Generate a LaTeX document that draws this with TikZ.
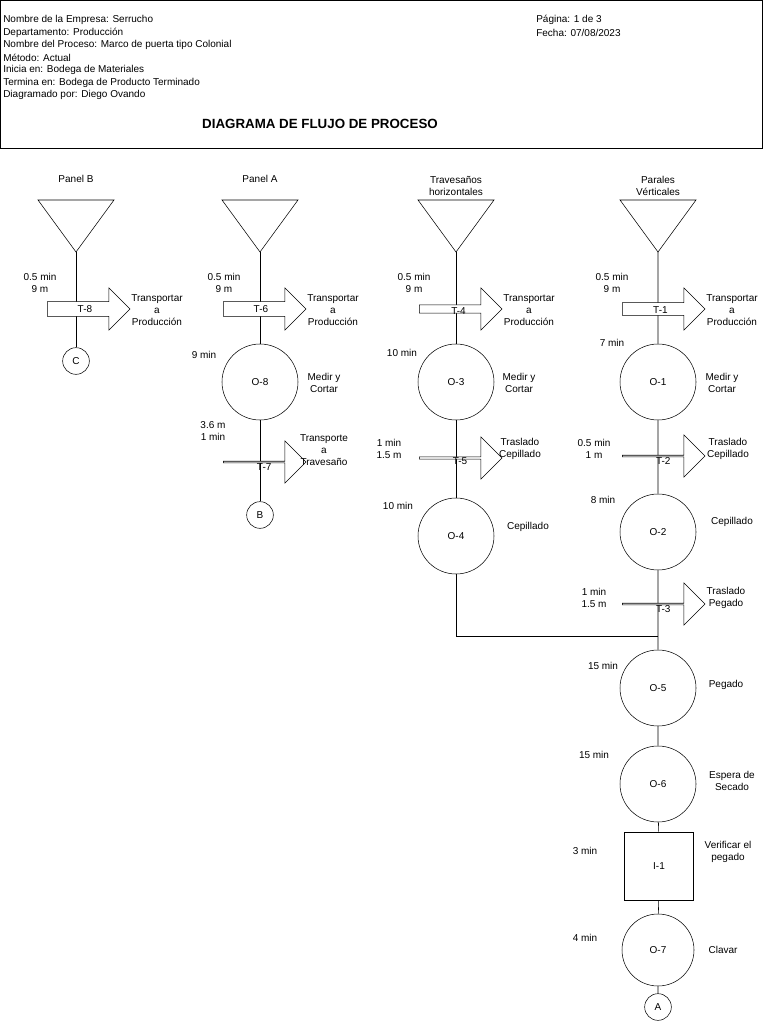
\documentclass[tikz,border=0pt]{standalone}
\usepackage{fontspec}
\setmainfont{Liberation Sans}
\usetikzlibrary{shapes.arrows,backgrounds}
\begin{document}
\begin{tikzpicture}[x=0.75pt,y=-0.75pt,
  every node/.style={font=\fontsize{7.5}{9}\selectfont},
  txt/.style={align=center,inner sep=0pt},
  ltxt/.style={anchor=west,inner sep=0pt},
  op/.style={circle,draw,fill=white,minimum size=57pt,inner sep=0pt},
  conn/.style={circle,draw,fill=white,minimum size=20pt,inner sep=0pt},
  tr/.style={single arrow,draw,fill=white,minimum height=62pt,minimum width=31.5pt,single arrow head extend=5.25pt,inner sep=0pt,text depth=0pt,anchor=west},
  ln/.style={draw,line width=0.6pt}]
\useasboundingbox (0,0) rectangle (768,1024);
\draw (0.5,0.5) rectangle (762,148);
\foreach \t [count=\i] in {Nombre de la Empresa: Serrucho,Departamento: Producción,Nombre del Proceso: Marco de puerta tipo Colonial,Método: Actual,Inicia en: Bodega de Materiales,Termina en: Bodega de Producto Terminado,Diagramado por: Diego Ovando}
  \node[ltxt] (h\i) at (3,{7.5+12.5*\i}) {\t};
\node[ltxt] (pag) at (536,20) {Página: 1 de 3};
\node[ltxt] (fec) at (536,33) {Fecha: 07/08/2023};
\node[txt,font=\bfseries\fontsize{10}{12}\selectfont] (title) at (320,124) {DIAGRAMA DE FLUJO DE PROCESO};
% triangles
\foreach \n/\x in {B/76,A/260,T/456,P/658}{
  \draw (\x-38,200) -- (\x+38,200) -- (\x,252) -- cycle;
  \coordinate (tri\n) at (\x,252);}
\node[txt] (lB) at (76,179) {Panel B};
\node[txt] (lA) at (260,179) {Panel A};
\node[txt] (lT) at (456,186) {Travesaños\\horizontales};
\node[txt] (lP) at (658,186) {Parales\\Vérticales};
% Panel B
\node[tr] (t8) at (47,309) {T-8};
\node[conn] (cC) at (76,361) {C};
\node[txt] at (40,283) {0.5 min\\9 m};
\node[txt] at (157,310) {Transportar\\a\\Producción};
% Panel A
\node[tr] (t6) at (223,309) {T-6};
\node[op] (o8) at (260,382) {O-8};
\node[tr] (t7) at (223,462) {\raisebox{-6pt}{T-7}};
\node[conn] (cB) at (260,515) {B};
\node[txt] at (224,283) {0.5 min\\9 m};
\node[txt] at (333,310) {Transportar\\a\\Producción};
\node[txt] at (204,355) {9 min};
\node[txt] at (324,383) {Medir y\\Cortar};
\node[txt] at (213,431) {3.6 m\\1 min};
\node[txt] at (324,450) {Transporte\\a\\Travesaño};
% Travesaños
\node[tr] (t4) at (419,309) {\raisebox{-3pt}{T-4}};
\node[op] (o3) at (456,382) {O-3};
\node[tr] (t5) at (419,458) {\raisebox{-5pt}{T-5}};
\node[op] (o4) at (456,536) {O-4};
\coordinate (j1) at (456,636);
\node[txt] at (414,283) {0.5 min\\9 m};
\node[txt] at (529,310) {Transportar\\a\\Producción};
\node[txt] at (402,353) {10 min};
\node[txt] at (519,383) {Medir y\\Cortar};
\node[txt] at (389,449) {1 min\\1.5 m};
\node[txt] at (520,449) {Traslado\\Cepillado};
\node[txt] at (398,506) {10 min};
\node[txt] at (528,527) {Cepillado};
% Parales
\node[tr] (t1) at (622,309) {\raisebox{-1pt}{T-1}};
\node[op] (o1) at (658,382) {O-1};
\node[tr] (t2) at (622,456) {\raisebox{-6pt}{T-2}};
\node[op] (o2) at (658,532) {O-2};
\node[tr] (t3) at (622,604) {\raisebox{-6pt}{T-3}};
\coordinate (j2) at (658,636);
\node[op] (o5) at (658,688) {O-5};
\node[op] (o6) at (658,784) {O-6};
\node[draw,fill=white,minimum width=52pt,minimum height=51pt,inner sep=0pt] (i1) at (659,866) {I-1};
\node[op,minimum size=54pt] (o7) at (658,950) {O-7};
\node[conn] (cA) at (658,1007) {A};
\node[txt] at (612,283) {0.5 min\\9 m};
\node[txt] at (732,310) {Transportar\\a\\Producción};
\node[txt] at (612,343) {7 min};
\node[txt] at (722,383) {Medir y\\Cortar};
\node[txt] at (594,449) {0.5 min\\1 m};
\node[txt] at (728,449) {Traslado\\Cepillado};
\node[txt] at (603,500) {8 min};
\node[txt] at (732,522) {Cepillado};
\node[txt] at (594,598) {1 min\\1.5 m};
\node[txt] at (726,598) {Traslado\\Pegado};
\node[txt] at (603,666) {15 min};
\node[txt] at (726,685) {Pegado};
\node[txt] at (594,755) {15 min};
\node[txt] at (732,781) {Espera de\\Secado};
\node[txt] at (585,851) {3 min};
\node[txt] at (728,852) {Verificar el\\pegado};
\node[txt] at (585,938) {4 min};
\node[txt] at (723,950) {Clavar};
\begin{scope}[on background layer]
\draw (triB) -- (cC);
\draw (triA) -- (o8) -- (cB);
\draw (triT) -- (o3) -- (o4) -- (j1) -- (j2);
\draw (triP) -- (o1) -- (o2) -- (o5) -- (o6) -- (i1) -- (o7) -- (cA);
\end{scope}
\end{tikzpicture}
\end{document}
